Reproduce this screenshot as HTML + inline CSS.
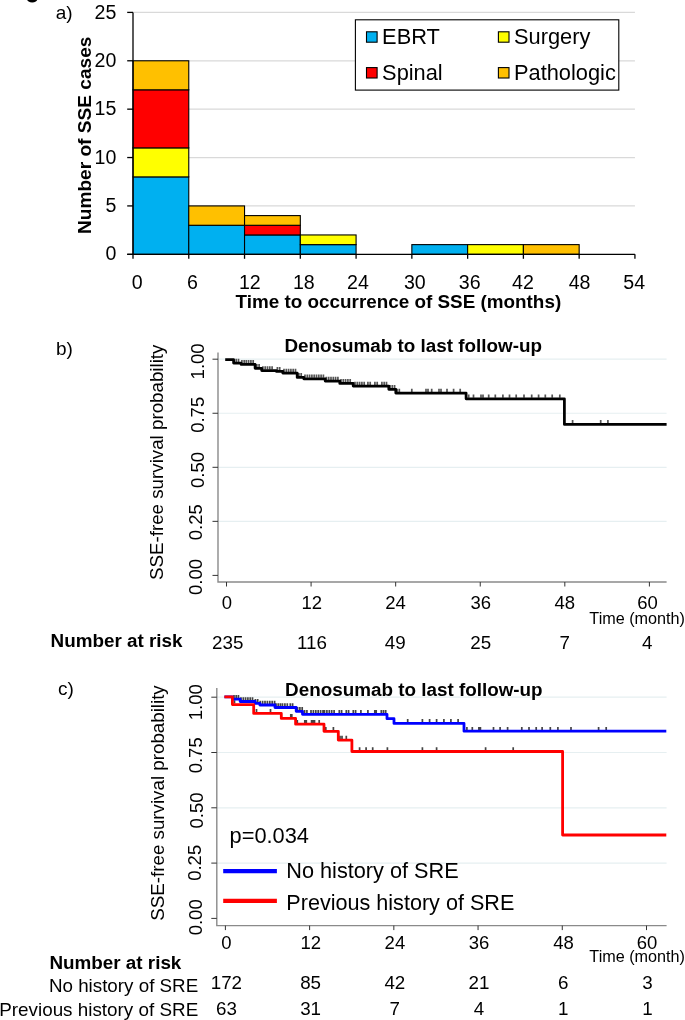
<!DOCTYPE html>
<html><head><meta charset="utf-8"><style>
html,body{margin:0;padding:0;background:#fff;width:685px;height:1020px;overflow:hidden}
svg{display:block;will-change:transform}
text{font-family:"Liberation Sans", sans-serif}
</style></head><body>
<svg width="685" height="1020" viewBox="0 0 685 1020" font-family='"Liberation Sans", sans-serif'>
<rect width="685" height="1020" fill="#fff"/>
<ellipse cx="32.2" cy="-0.6" rx="5.1" ry="3.1" fill="#000"/>
<text x="55.7" y="18.7" font-size="19" text-anchor="start" fill="#000">a)</text>
<line x1="133.0" y1="205.92" x2="634.93" y2="205.92" stroke="#d9d9d9" stroke-width="1.2"/>
<line x1="133.0" y1="157.54" x2="634.93" y2="157.54" stroke="#d9d9d9" stroke-width="1.2"/>
<line x1="133.0" y1="109.16" x2="634.93" y2="109.16" stroke="#d9d9d9" stroke-width="1.2"/>
<line x1="133.0" y1="60.78" x2="634.93" y2="60.78" stroke="#d9d9d9" stroke-width="1.2"/>
<line x1="133.0" y1="12.40" x2="634.93" y2="12.40" stroke="#d9d9d9" stroke-width="1.2"/>
<rect x="133.00" y="176.89" width="55.77" height="77.41" fill="#00b0f0" stroke="#000" stroke-width="1.1"/>
<rect x="133.00" y="147.86" width="55.77" height="29.03" fill="#ffff00" stroke="#000" stroke-width="1.1"/>
<rect x="133.00" y="89.81" width="55.77" height="58.06" fill="#ff0000" stroke="#000" stroke-width="1.1"/>
<rect x="133.00" y="60.78" width="55.77" height="29.03" fill="#ffc000" stroke="#000" stroke-width="1.1"/>
<rect x="188.77" y="225.27" width="55.77" height="29.03" fill="#00b0f0" stroke="#000" stroke-width="1.1"/>
<rect x="188.77" y="205.92" width="55.77" height="19.35" fill="#ffc000" stroke="#000" stroke-width="1.1"/>
<rect x="244.54" y="234.95" width="55.77" height="19.35" fill="#00b0f0" stroke="#000" stroke-width="1.1"/>
<rect x="244.54" y="225.27" width="55.77" height="9.68" fill="#ff0000" stroke="#000" stroke-width="1.1"/>
<rect x="244.54" y="215.60" width="55.77" height="9.68" fill="#ffc000" stroke="#000" stroke-width="1.1"/>
<rect x="300.31" y="244.62" width="55.77" height="9.68" fill="#00b0f0" stroke="#000" stroke-width="1.1"/>
<rect x="300.31" y="234.95" width="55.77" height="9.68" fill="#ffff00" stroke="#000" stroke-width="1.1"/>
<rect x="411.85" y="244.62" width="55.77" height="9.68" fill="#00b0f0" stroke="#000" stroke-width="1.1"/>
<rect x="467.62" y="244.62" width="55.77" height="9.68" fill="#ffff00" stroke="#000" stroke-width="1.1"/>
<rect x="523.39" y="244.62" width="55.77" height="9.68" fill="#ffc000" stroke="#000" stroke-width="1.1"/>
<line x1="133.0" y1="12.40" x2="133.0" y2="254.3" stroke="#000" stroke-width="1.3"/>
<line x1="127.2" y1="254.3" x2="634.93" y2="254.3" stroke="#000" stroke-width="1.3"/>
<line x1="127.2" y1="254.30" x2="133.0" y2="254.30" stroke="#000" stroke-width="1.3"/>
<text x="116.3" y="260.4" font-size="19.6" text-anchor="end" fill="#000">0</text>
<line x1="127.2" y1="205.92" x2="133.0" y2="205.92" stroke="#000" stroke-width="1.3"/>
<text x="116.3" y="212.02" font-size="19.6" text-anchor="end" fill="#000">5</text>
<line x1="127.2" y1="157.54" x2="133.0" y2="157.54" stroke="#000" stroke-width="1.3"/>
<text x="116.3" y="163.64" font-size="19.6" text-anchor="end" fill="#000">10</text>
<line x1="127.2" y1="109.16" x2="133.0" y2="109.16" stroke="#000" stroke-width="1.3"/>
<text x="116.3" y="115.26" font-size="19.6" text-anchor="end" fill="#000">15</text>
<line x1="127.2" y1="60.78" x2="133.0" y2="60.78" stroke="#000" stroke-width="1.3"/>
<text x="116.3" y="66.88" font-size="19.6" text-anchor="end" fill="#000">20</text>
<line x1="127.2" y1="12.40" x2="133.0" y2="12.40" stroke="#000" stroke-width="1.3"/>
<text x="116.3" y="18.5" font-size="19.6" text-anchor="end" fill="#000">25</text>
<line x1="133.00" y1="254.3" x2="133.00" y2="258.8" stroke="#000" stroke-width="1.3"/>
<text x="137.1" y="288.5" font-size="19.6" text-anchor="middle" fill="#000">0</text>
<line x1="188.77" y1="254.3" x2="188.77" y2="258.8" stroke="#000" stroke-width="1.3"/>
<text x="192.4" y="288.5" font-size="19.6" text-anchor="middle" fill="#000">6</text>
<line x1="244.54" y1="254.3" x2="244.54" y2="258.8" stroke="#000" stroke-width="1.3"/>
<text x="249.85" y="288.5" font-size="19.6" text-anchor="middle" fill="#000">12</text>
<line x1="300.31" y1="254.3" x2="300.31" y2="258.8" stroke="#000" stroke-width="1.3"/>
<text x="303.8" y="288.5" font-size="19.6" text-anchor="middle" fill="#000">18</text>
<line x1="356.08" y1="254.3" x2="356.08" y2="258.8" stroke="#000" stroke-width="1.3"/>
<text x="358.0" y="288.5" font-size="19.6" text-anchor="middle" fill="#000">24</text>
<line x1="411.85" y1="254.3" x2="411.85" y2="258.8" stroke="#000" stroke-width="1.3"/>
<text x="414.8" y="288.5" font-size="19.6" text-anchor="middle" fill="#000">30</text>
<line x1="467.62" y1="254.3" x2="467.62" y2="258.8" stroke="#000" stroke-width="1.3"/>
<text x="469.7" y="288.5" font-size="19.6" text-anchor="middle" fill="#000">36</text>
<line x1="523.39" y1="254.3" x2="523.39" y2="258.8" stroke="#000" stroke-width="1.3"/>
<text x="523.0" y="288.5" font-size="19.6" text-anchor="middle" fill="#000">42</text>
<line x1="579.16" y1="254.3" x2="579.16" y2="258.8" stroke="#000" stroke-width="1.3"/>
<text x="579.6" y="288.5" font-size="19.6" text-anchor="middle" fill="#000">48</text>
<line x1="634.93" y1="254.3" x2="634.93" y2="258.8" stroke="#000" stroke-width="1.3"/>
<text x="634.2" y="288.5" font-size="19.6" text-anchor="middle" fill="#000">54</text>
<text x="398.4" y="308.1" font-size="18.86" text-anchor="middle" font-weight="bold" fill="#000">Time to occurrence of SSE (months)</text>
<text x="91.5" y="135.3" font-size="19.1" text-anchor="middle" font-weight="bold" fill="#000" transform="rotate(-90 91.5 135.3)">Number of SSE cases</text>
<rect x="355.4" y="19.8" width="263.4" height="70.3" fill="#fff" stroke="#000" stroke-width="1.1"/>
<rect x="366.5" y="31.8" width="10.6" height="10.4" fill="#00b0f0" stroke="#000" stroke-width="1.1"/>
<text x="382.1" y="43.8" font-size="21.8" text-anchor="start" fill="#000">EBRT</text>
<rect x="366.5" y="67.6" width="10.6" height="10.4" fill="#ff0000" stroke="#000" stroke-width="1.1"/>
<text x="382.1" y="79.6" font-size="21.8" text-anchor="start" fill="#000">Spinal</text>
<rect x="498.4" y="31.8" width="10.6" height="10.4" fill="#ffff00" stroke="#000" stroke-width="1.1"/>
<text x="514.0" y="43.8" font-size="21.8" text-anchor="start" fill="#000">Surgery</text>
<rect x="498.4" y="67.6" width="10.6" height="10.4" fill="#ffc000" stroke="#000" stroke-width="1.1"/>
<text x="514.0" y="79.6" font-size="21.8" text-anchor="start" fill="#000">Pathologic</text>
<text x="56" y="355" font-size="19" text-anchor="start" fill="#000">b)</text>
<line x1="218" y1="521.35" x2="666.6" y2="521.35" stroke="#e6eff1" stroke-width="1.2"/>
<line x1="218" y1="467.30" x2="666.6" y2="467.30" stroke="#e6eff1" stroke-width="1.2"/>
<line x1="218" y1="413.25" x2="666.6" y2="413.25" stroke="#e6eff1" stroke-width="1.2"/>
<line x1="218" y1="359.20" x2="666.6" y2="359.20" stroke="#e6eff1" stroke-width="1.2"/>
<polyline points="218,352.4 218,582.0 666.6,582.0" fill="none" stroke="#8a8a8a" stroke-width="1.4"/>
<line x1="212.5" y1="575.40" x2="218" y2="575.40" stroke="#333" stroke-width="1"/>
<text x="202.5" y="576.9" font-size="18.5" text-anchor="middle" fill="#000" transform="rotate(-90 202.5 576.9)">0.00</text>
<line x1="212.5" y1="521.35" x2="218" y2="521.35" stroke="#333" stroke-width="1"/>
<text x="202.3" y="522.2" font-size="18.5" text-anchor="middle" fill="#000" transform="rotate(-90 202.3 522.2)">0.25</text>
<line x1="212.5" y1="467.30" x2="218" y2="467.30" stroke="#333" stroke-width="1"/>
<text x="203.7" y="470.0" font-size="18.5" text-anchor="middle" fill="#000" transform="rotate(-90 203.7 470.0)">0.50</text>
<line x1="212.5" y1="413.25" x2="218" y2="413.25" stroke="#333" stroke-width="1"/>
<text x="203.7" y="414.8" font-size="18.5" text-anchor="middle" fill="#000" transform="rotate(-90 203.7 414.8)">0.75</text>
<line x1="212.5" y1="359.20" x2="218" y2="359.20" stroke="#333" stroke-width="1"/>
<text x="203.7" y="361.4" font-size="18.5" text-anchor="middle" fill="#000" transform="rotate(-90 203.7 361.4)">1.00</text>
<line x1="226.50" y1="582.0" x2="226.50" y2="586.5" stroke="#333" stroke-width="1"/>
<text x="227" y="608.7" font-size="18.5" text-anchor="middle" fill="#000">0</text>
<line x1="311.08" y1="582.0" x2="311.08" y2="586.5" stroke="#333" stroke-width="1"/>
<text x="311.7" y="608.7" font-size="18.5" text-anchor="middle" fill="#000">12</text>
<line x1="395.66" y1="582.0" x2="395.66" y2="586.5" stroke="#333" stroke-width="1"/>
<text x="395.6" y="608.7" font-size="18.5" text-anchor="middle" fill="#000">24</text>
<line x1="480.24" y1="582.0" x2="480.24" y2="586.5" stroke="#333" stroke-width="1"/>
<text x="480.7" y="608.7" font-size="18.5" text-anchor="middle" fill="#000">36</text>
<line x1="564.82" y1="582.0" x2="564.82" y2="586.5" stroke="#333" stroke-width="1"/>
<text x="564.8" y="608.7" font-size="18.5" text-anchor="middle" fill="#000">48</text>
<line x1="649.40" y1="582.0" x2="649.40" y2="586.5" stroke="#333" stroke-width="1"/>
<text x="647.5" y="608.7" font-size="18.5" text-anchor="middle" fill="#000">60</text>
<text x="685.0" y="623.6" font-size="16.2" text-anchor="end" fill="#000">Time (month)</text>
<text x="284.5" y="352.1" font-size="18.85" text-anchor="start" font-weight="bold" fill="#000">Denosumab to last follow-up</text>
<text x="163.5" y="462.3" font-size="18.75" text-anchor="middle" fill="#000" transform="rotate(-90 163.5 462.3)">SSE-free survival probability</text>
<path d="M236.2,358.8 v3.2 M238.5,358.8 v3.2 M241.9,360.1 v3.2 M244.2,360.1 v3.2 M246.3,360.1 v3.2 M248.6,360.1 v3.2 M250.9,360.1 v3.2 M253.2,360.1 v3.2 M256.8,364.0 v3.2 M259.1,364.0 v3.2 M262.9,366.2 v3.2 M265.2,366.2 v3.2 M267.5,366.2 v3.2 M269.8,366.2 v3.2 M272.1,366.2 v3.2 M277.4,367.0 v3.2 M279.7,367.0 v3.2 M284.0,368.8 v3.2 M286.3,368.8 v3.2 M288.6,368.8 v3.2 M290.9,368.8 v3.2 M293.2,368.8 v3.2 M295.5,368.8 v3.2 M298.9,373.1 v3.2 M301.2,373.1 v3.2 M305.0,374.5 v3.2 M307.3,374.5 v3.2 M309.6,374.5 v3.2 M311.9,374.5 v3.2 M314.2,374.5 v3.2 M316.5,374.5 v3.2 M318.8,374.5 v3.2 M321.1,374.5 v3.2 M323.4,374.5 v3.2 M326.4,376.7 v3.2 M328.7,376.7 v3.2 M331.0,376.7 v3.2 M333.3,376.7 v3.2 M335.6,376.7 v3.2 M337.9,376.7 v3.2 M341.0,379.1 v3.2 M343.3,379.1 v3.2 M345.6,379.1 v3.2 M347.9,379.1 v3.2 M350.2,379.1 v3.2 M355.0,381.7 v3.2 M357.3,381.7 v3.2 M359.6,381.7 v3.2 M361.9,381.7 v3.2 M364.2,381.7 v3.2 M367.9,381.7 v3.2 M370.2,381.7 v3.2 M374.9,381.7 v3.2 M377.2,381.7 v3.2 M381.9,381.7 v3.2 M384.2,381.7 v3.2 M386.5,381.7 v3.2 M388.8,385.0 v3.2 M390.0,385.0 v3.2 M392.3,385.0 v3.2 M394.6,385.0 v3.2 M397.0,388.7 v3.2 M399.3,388.7 v3.2 M411.8,388.7 v3.2 M426.0,388.7 v3.2 M428.0,388.7 v3.2 M431.7,388.7 v3.2 M439.0,388.7 v3.2 M441.0,388.7 v3.2 M447.0,388.7 v3.2 M453.6,388.7 v3.2 M460.2,388.7 v3.2 M468.7,394.5 v3.2 M473.5,394.5 v3.2 M481.0,394.5 v3.2 M483.0,394.5 v3.2 M488.7,394.5 v3.2 M495.3,394.5 v3.2 M502.9,394.5 v3.2 M509.5,394.5 v3.2 M516.2,394.5 v3.2 M524.0,394.5 v3.2 M531.7,394.5 v3.2 M538.6,394.5 v3.2 M545.3,394.5 v3.2 M552.2,394.5 v3.2 M559.8,394.5 v3.2 M572.6,420.1 v3.2 M600.7,420.1 v3.2 M607.9,420.1 v3.2" stroke="#555" stroke-width="1.7" fill="none"/>
<path d="M225.2,359.59999999999997 H233.6 V363.09999999999997 H241.1 V364.4 H255.1 V368.29999999999995 H261.7 V370.49999999999994 H276.2 V371.29999999999995 H282.8 V373.09999999999997 H297.2 V377.4 H303.8 V378.79999999999995 H325.2 V380.99999999999994 H339.8 V383.4 H353.2 V385.99999999999994 H388.8 V389.29999999999995 H395.8 V392.99999999999994 H466.09999999999997 V398.79999999999995 H564.4000000000001 V424.4 H666.6" fill="none" stroke="#000" stroke-width="2.75" stroke-linejoin="round"/>
<text x="50.6" y="646.9" font-size="18.85" text-anchor="start" font-weight="bold" fill="#000">Number at risk</text>
<text x="227.7" y="649.0" font-size="18.8" text-anchor="middle" fill="#000">235</text>
<text x="312.05" y="649.0" font-size="18.8" text-anchor="middle" fill="#000">116</text>
<text x="395.3" y="649.0" font-size="18.8" text-anchor="middle" fill="#000">49</text>
<text x="480.7" y="649.0" font-size="18.8" text-anchor="middle" fill="#000">25</text>
<text x="564.8" y="649.0" font-size="18.8" text-anchor="middle" fill="#000">7</text>
<text x="647.3" y="649.0" font-size="18.8" text-anchor="middle" fill="#000">4</text>
<text x="58" y="695" font-size="19" text-anchor="start" fill="#000">c)</text>
<line x1="216.8" y1="863.10" x2="666.6" y2="863.10" stroke="#e6eff1" stroke-width="1.2"/>
<line x1="216.8" y1="807.80" x2="666.6" y2="807.80" stroke="#e6eff1" stroke-width="1.2"/>
<line x1="216.8" y1="752.50" x2="666.6" y2="752.50" stroke="#e6eff1" stroke-width="1.2"/>
<line x1="216.8" y1="697.20" x2="666.6" y2="697.20" stroke="#e6eff1" stroke-width="1.2"/>
<polyline points="216.8,688.0 216.8,925.6 666.6,925.6" fill="none" stroke="#8a8a8a" stroke-width="1.4"/>
<line x1="211.3" y1="918.40" x2="216.8" y2="918.40" stroke="#333" stroke-width="1"/>
<text x="201.8" y="917.3" font-size="18.5" text-anchor="middle" fill="#000" transform="rotate(-90 201.8 917.3)">0.00</text>
<line x1="211.3" y1="863.10" x2="216.8" y2="863.10" stroke="#333" stroke-width="1"/>
<text x="201.1" y="862.8" font-size="18.5" text-anchor="middle" fill="#000" transform="rotate(-90 201.1 862.8)">0.25</text>
<line x1="211.3" y1="807.80" x2="216.8" y2="807.80" stroke="#333" stroke-width="1"/>
<text x="202.5" y="810.5" font-size="18.5" text-anchor="middle" fill="#000" transform="rotate(-90 202.5 810.5)">0.50</text>
<line x1="211.3" y1="752.50" x2="216.8" y2="752.50" stroke="#333" stroke-width="1"/>
<text x="202.5" y="755.3" font-size="18.5" text-anchor="middle" fill="#000" transform="rotate(-90 202.5 755.3)">0.75</text>
<line x1="211.3" y1="697.20" x2="216.8" y2="697.20" stroke="#333" stroke-width="1"/>
<text x="202.5" y="702.2" font-size="18.5" text-anchor="middle" fill="#000" transform="rotate(-90 202.5 702.2)">1.00</text>
<line x1="225.40" y1="925.6" x2="225.40" y2="930.1" stroke="#333" stroke-width="1"/>
<text x="226.5" y="949.0" font-size="18.5" text-anchor="middle" fill="#000">0</text>
<line x1="309.62" y1="925.6" x2="309.62" y2="930.1" stroke="#333" stroke-width="1"/>
<text x="310.7" y="949.0" font-size="18.5" text-anchor="middle" fill="#000">12</text>
<line x1="393.84" y1="925.6" x2="393.84" y2="930.1" stroke="#333" stroke-width="1"/>
<text x="394.9" y="949.0" font-size="18.5" text-anchor="middle" fill="#000">24</text>
<line x1="478.06" y1="925.6" x2="478.06" y2="930.1" stroke="#333" stroke-width="1"/>
<text x="479.1" y="949.0" font-size="18.5" text-anchor="middle" fill="#000">36</text>
<line x1="562.28" y1="925.6" x2="562.28" y2="930.1" stroke="#333" stroke-width="1"/>
<text x="563.6" y="949.0" font-size="18.5" text-anchor="middle" fill="#000">48</text>
<line x1="646.50" y1="925.6" x2="646.50" y2="930.1" stroke="#333" stroke-width="1"/>
<text x="647.0" y="949.0" font-size="18.5" text-anchor="middle" fill="#000">60</text>
<text x="685.0" y="961.8" font-size="16.2" text-anchor="end" fill="#000">Time (month)</text>
<text x="285.1" y="696.2" font-size="18.85" text-anchor="start" font-weight="bold" fill="#000">Denosumab to last follow-up</text>
<text x="163.5" y="803" font-size="18.75" text-anchor="middle" fill="#000" transform="rotate(-90 163.5 803)">SSE-free survival probability</text>
<path d="M234.0,694.9 v3.2 M236.2,694.9 v3.2 M238.4,694.9 v3.2 M241.0,697.2 v3.2 M243.3,697.2 v3.2 M245.6,697.2 v3.2 M247.9,697.2 v3.2 M250.2,697.2 v3.2 M252.5,697.2 v3.2 M255.4,699.1 v3.2 M257.7,699.1 v3.2 M260.2,700.7 v3.2 M262.6,700.7 v3.2 M265.0,700.7 v3.2 M267.4,700.7 v3.2 M269.8,700.7 v3.2 M272.2,700.7 v3.2 M274.6,700.7 v3.2 M276.0,703.2 v3.2 M278.2,703.2 v3.2 M280.4,703.2 v3.2 M282.5,703.2 v3.2 M284.9,703.2 v3.2 M287.3,703.2 v3.2 M290.3,703.2 v3.2 M292.6,703.2 v3.2 M297.6,707.0 v3.2 M299.9,707.0 v3.2 M302.2,707.0 v3.2 M304.6,710.0 v3.2 M306.9,710.0 v3.2 M311.0,710.0 v3.2 M313.4,710.0 v3.2 M315.8,710.0 v3.2 M318.2,710.0 v3.2 M320.6,710.0 v3.2 M323.0,710.0 v3.2 M324.5,710.0 v3.2 M326.9,710.0 v3.2 M329.3,710.0 v3.2 M331.7,710.0 v3.2 M334.1,710.0 v3.2 M339.3,710.0 v3.2 M341.6,710.0 v3.2 M346.3,710.0 v3.2 M348.6,710.0 v3.2 M353.3,710.0 v3.2 M355.6,710.0 v3.2 M360.9,710.0 v3.2 M367.9,710.0 v3.2 M374.8,710.0 v3.2 M376.2,710.0 v3.2 M381.3,710.0 v3.2 M383.5,710.0 v3.2 M385.7,710.0 v3.2 M407.7,719.1 v3.2 M422.4,719.1 v3.2 M429.6,719.1 v3.2 M436.6,719.1 v3.2 M443.9,719.1 v3.2 M450.9,719.1 v3.2 M458.1,719.1 v3.2 M466.9,726.9 v3.2 M472.3,726.9 v3.2 M478.9,726.9 v3.2 M480.4,726.9 v3.2 M493.5,726.9 v3.2 M500.1,726.9 v3.2 M507.6,726.9 v3.2 M521.8,726.9 v3.2 M529.0,726.9 v3.2 M536.2,726.9 v3.2 M542.1,726.9 v3.2 M550.3,726.9 v3.2 M557.9,726.9 v3.2 M571.0,726.9 v3.2 M598.6,726.9 v3.2 M606.2,726.9 v3.2" stroke="#444" stroke-width="1.7" fill="none"/>
<path d="M234.5,700.3 v3.2 M256.5,709.1 v3.2 M270.5,709.1 v3.2 M290.8,714.1 v3.2 M291.8,714.1 v3.2 M297.3,719.9 v3.2 M304.8,719.9 v3.2 M306.3,719.9 v3.2 M311.6,719.9 v3.2 M313.2,719.9 v3.2 M314.5,719.9 v3.2 M319.2,719.9 v3.2 M325.8,727.0 v3.2 M333.4,727.0 v3.2 M340.0,735.8 v3.2 M342.0,735.8 v3.2 M346.3,735.8 v3.2 M359.6,747.2 v3.2 M366.1,747.2 v3.2 M372.7,747.2 v3.2 M387.4,747.2 v3.2 M422.4,747.2 v3.2 M436.6,747.2 v3.2 M485.6,747.2 v3.2 M513.2,747.2 v3.2" stroke="#444" stroke-width="1.7" fill="none"/>
<path d="M224.4,696.8 H232.4 V699.2 H240.2 V701.5 H255.2 V703.4 H259.9 V705.0 H275 V707.5 H296.2 V711.3 H302.5 V714.3 H387.0 V718.7 H394.0 V723.4 H464 V731.2 H666.3" fill="none" stroke="#0000ff" stroke-width="2.8" stroke-linejoin="round"/>
<path d="M224.4,696.8 H232.4 V704.6 H253.7 V713.4 H281.3 V718.4 H295.6 V724.2 H324 V731.3 H338.3 V740.1 H351.9 V751.5 H562.6 V835.0 H666.3" fill="none" stroke="#ff0000" stroke-width="2.8" stroke-linejoin="round"/>
<text x="229.6" y="842.5" font-size="21.8" text-anchor="start" fill="#000">p=0.034</text>
<line x1="223.2" y1="871.1" x2="276.9" y2="871.1" stroke="#0000ff" stroke-width="4.2"/>
<line x1="223.2" y1="900.8" x2="276.9" y2="900.8" stroke="#ff0000" stroke-width="4.2"/>
<text x="286.3" y="878.4" font-size="21.7" text-anchor="start" fill="#000">No history of SRE</text>
<text x="286.3" y="910.2" font-size="21.6" text-anchor="start" fill="#000">Previous history of SRE</text>
<text x="49.4" y="969.4" font-size="18.85" text-anchor="start" font-weight="bold" fill="#000">Number at risk</text>
<text x="198.2" y="992.0" font-size="18.8" text-anchor="end" fill="#000">No history of SRE</text>
<text x="198.2" y="1015.6" font-size="18.85" text-anchor="end" fill="#000">Previous history of SRE</text>
<text x="226.4" y="989.3" font-size="18.8" text-anchor="middle" fill="#000">172</text>
<text x="226.4" y="1015.0" font-size="18.8" text-anchor="middle" fill="#000">63</text>
<text x="310.62" y="989.3" font-size="18.8" text-anchor="middle" fill="#000">85</text>
<text x="310.62" y="1015.0" font-size="18.8" text-anchor="middle" fill="#000">31</text>
<text x="394.84" y="989.3" font-size="18.8" text-anchor="middle" fill="#000">42</text>
<text x="394.84" y="1015.0" font-size="18.8" text-anchor="middle" fill="#000">7</text>
<text x="479.06" y="989.3" font-size="18.8" text-anchor="middle" fill="#000">21</text>
<text x="479.06" y="1015.0" font-size="18.8" text-anchor="middle" fill="#000">4</text>
<text x="563.28" y="989.3" font-size="18.8" text-anchor="middle" fill="#000">6</text>
<text x="563.28" y="1015.0" font-size="18.8" text-anchor="middle" fill="#000">1</text>
<text x="647.5" y="989.3" font-size="18.8" text-anchor="middle" fill="#000">3</text>
<text x="647.5" y="1015.0" font-size="18.8" text-anchor="middle" fill="#000">1</text>
</svg></body></html>
